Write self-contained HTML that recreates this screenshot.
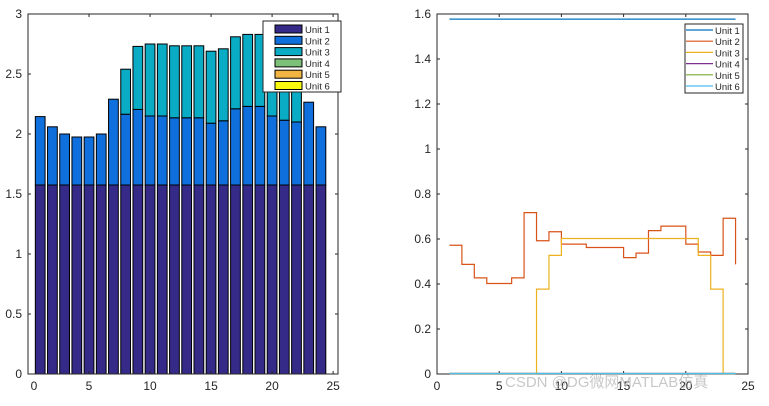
<!DOCTYPE html>
<html><head><meta charset="utf-8"><style>
body{margin:0;background:#fff;width:769px;height:401px;overflow:hidden}
svg{font-family:"Liberation Sans",Arial,sans-serif}
</style></head><body>
<svg id="c" width="769" height="401"></svg>
<script>
const hours=[1,2,3,4,5,6,7,8,9,10,11,12,13,14,15,16,17,18,19,20,21,22,23,24];
const unit1=[1.575,1.575,1.575,1.575,1.575,1.575,1.575,1.575,1.575,1.575,1.575,1.575,1.575,1.575,1.575,1.575,1.575,1.575,1.575,1.575,1.575,1.575,1.575,1.575];
const unit2=[0.57,0.485,0.425,0.4,0.4,0.425,0.715,0.59,0.63,0.575,0.575,0.56,0.56,0.56,0.515,0.535,0.635,0.655,0.655,0.575,0.54,0.525,0.69,0.485];
const unit3=[0,0,0,0,0,0,0,0.375,0.525,0.6,0.6,0.6,0.6,0.6,0.6,0.6,0.6,0.6,0.6,0.6,0.525,0.375,0,0];
const unit4=[0,0,0,0,0,0,0,0,0,0,0,0,0,0,0,0,0,0,0,0,0,0,0,0];
const unit5=[0,0,0,0,0,0,0,0,0,0,0,0,0,0,0,0,0,0,0,0,0,0,0,0];
const unit6=[0,0,0,0,0,0,0,0,0,0,0,0,0,0,0,0,0,0,0,0,0,0,0,0];
const unitNames=["Unit 1","Unit 2","Unit 3","Unit 4","Unit 5","Unit 6"];
const leftYTicks=[0,0.5,1,1.5,2,2.5,3];
const rightYTicks=[0,0.2,0.4,0.6,0.8,1,1.2,1.4,1.6];
const xTicks=[0,5,10,15,20,25];

const series=[unit1,unit2,unit3,unit4,unit5,unit6];
const barColors=["#352a87","#0f6fdd","#0aabc4","#7dc07a","#f2b544","#f9fb0e"];
const lineColors=["#0072bd","#d95319","#edb120","#7e2f8e","#77ac30","#4dbeee"];
const NS="http://www.w3.org/2000/svg";
const svg=document.getElementById('c');
function el(t,a,p){const e=document.createElementNS(NS,t);for(const k in a)e.setAttribute(k,a[k]);(p||svg).appendChild(e);return e;}
function txt(x,y,s,anchor,size,p){const t=el('text',{x:x,y:y,'text-anchor':anchor,'font-size':size,fill:'#262626'},p);t.textContent=s;return t;}

// LEFT
const L={x0:28,x1:338,y0:374,y1:14,xmax:25.4,ymax:3};
const lx=v=>L.x0+v/L.xmax*(L.x1-L.x0);
const ly=v=>L.y0-v/L.ymax*(L.y0-L.y1);
const gl=el('g',{});


hours.forEach((h,i)=>{
  let base=0;
  series.forEach((s,k)=>{
    const v=s[i];
    if(v>0){
      const r=el('rect',{x:lx(h-0.4),y:ly(base+v),width:lx(h+0.4)-lx(h-0.4),height:ly(base)-ly(base+v),fill:barColors[k],stroke:'#000','stroke-width':1},gl);
      
      
    }
    base+=v;
  });
});
el('rect',{x:L.x0,y:L.y1,width:L.x1-L.x0,height:L.y0-L.y1,fill:'none',stroke:'#262626','stroke-width':1},gl);
leftYTicks.forEach(t=>{
  const y=ly(t);
  el('line',{x1:L.x0,x2:L.x0+3,y1:y,y2:y,stroke:'#262626'},gl);
  el('line',{x1:L.x1,x2:L.x1-3,y1:y,y2:y,stroke:'#262626'},gl);
  const tt=txt(L.x0-6,y+4,String(t),'end',12,gl);
  
  
});
xTicks.forEach(t=>{
  const x=lx(t);
  el('line',{x1:x,x2:x,y1:L.y0,y2:L.y0-3,stroke:'#262626'},gl);
  el('line',{x1:x,x2:x,y1:L.y1,y2:L.y1+3,stroke:'#262626'},gl);
  const tt=txt(x+(t===0?6:0),L.y0+16,String(t),'middle',12,gl);
  
  
});
const lg=el('g',{},gl);


el('rect',{x:263,y:21,width:78,height:71,fill:'#fff',stroke:'#262626'},lg);
unitNames.forEach((n,k)=>{
  const y=25+k*11.3;
  el('rect',{x:275,y:y,width:27,height:8,fill:barColors[k],stroke:'#000'},lg);
  const tt=txt(305,y+8,n,'start',9.5,lg);
  
  
});

// RIGHT
const R={x0:437,x1:748,y0:374,y1:14,xmax:25,ymax:1.6};
const rx=v=>R.x0+v/R.xmax*(R.x1-R.x0);
const ry=v=>R.y0-v/R.ymax*(R.y0-R.y1);
const gr=el('g',{});


el('rect',{x:R.x0,y:R.y1,width:R.x1-R.x0,height:R.y0-R.y1,fill:'none',stroke:'#262626'},gr);
rightYTicks.forEach(t=>{
  const y=ry(t);
  el('line',{x1:R.x0,x2:R.x0+3,y1:y,y2:y,stroke:'#262626'},gr);
  el('line',{x1:R.x1,x2:R.x1-3,y1:y,y2:y,stroke:'#262626'},gr);
  const tt=txt(R.x0-6,y+4,String(t),'end',12,gr);
  
  
});
xTicks.forEach(t=>{
  const x=rx(t);
  el('line',{x1:x,x2:x,y1:R.y0,y2:R.y0-3,stroke:'#262626'},gr);
  el('line',{x1:x,x2:x,y1:R.y1,y2:R.y1+3,stroke:'#262626'},gr);
  const tt=txt(x,R.y0+16,String(t),'middle',12,gr);
  
  
});
series.forEach((s,k)=>{
  let d='';
  hours.forEach((h,i)=>{
    if(i===0)d+='M'+rx(h)+' '+(ry(s[i])-0.5);
    else d+=' L'+rx(h)+' '+(ry(s[i-1])-0.5)+' L'+rx(h)+' '+(ry(s[i])-0.5);
  });
  const p=el('path',{d:d,fill:'none',stroke:lineColors[k],'stroke-width':1.2},gr);
  
  
});
const rg=el('g',{},gr);


el('rect',{x:685,y:24,width:58,height:69,fill:'#fff',stroke:'#262626'},rg);
unitNames.forEach((n,k)=>{
  const y=30+k*11.2;
  el('line',{x1:686,x2:713,y1:y,y2:y,stroke:lineColors[k],'stroke-width':1.2},rg);
  const tt=txt(715,y+4,n,'start',9.5,rg);
  
  
});
const wm=txt(505,387,'CSDN @DG微网MATLAB仿真','start',15);
wm.setAttribute('fill','#bbb');
wm.setAttribute('opacity','0.8');
wm.setAttribute('font-family','"Liberation Sans","Noto Sans CJK SC",sans-serif');


</script>
</body></html>
